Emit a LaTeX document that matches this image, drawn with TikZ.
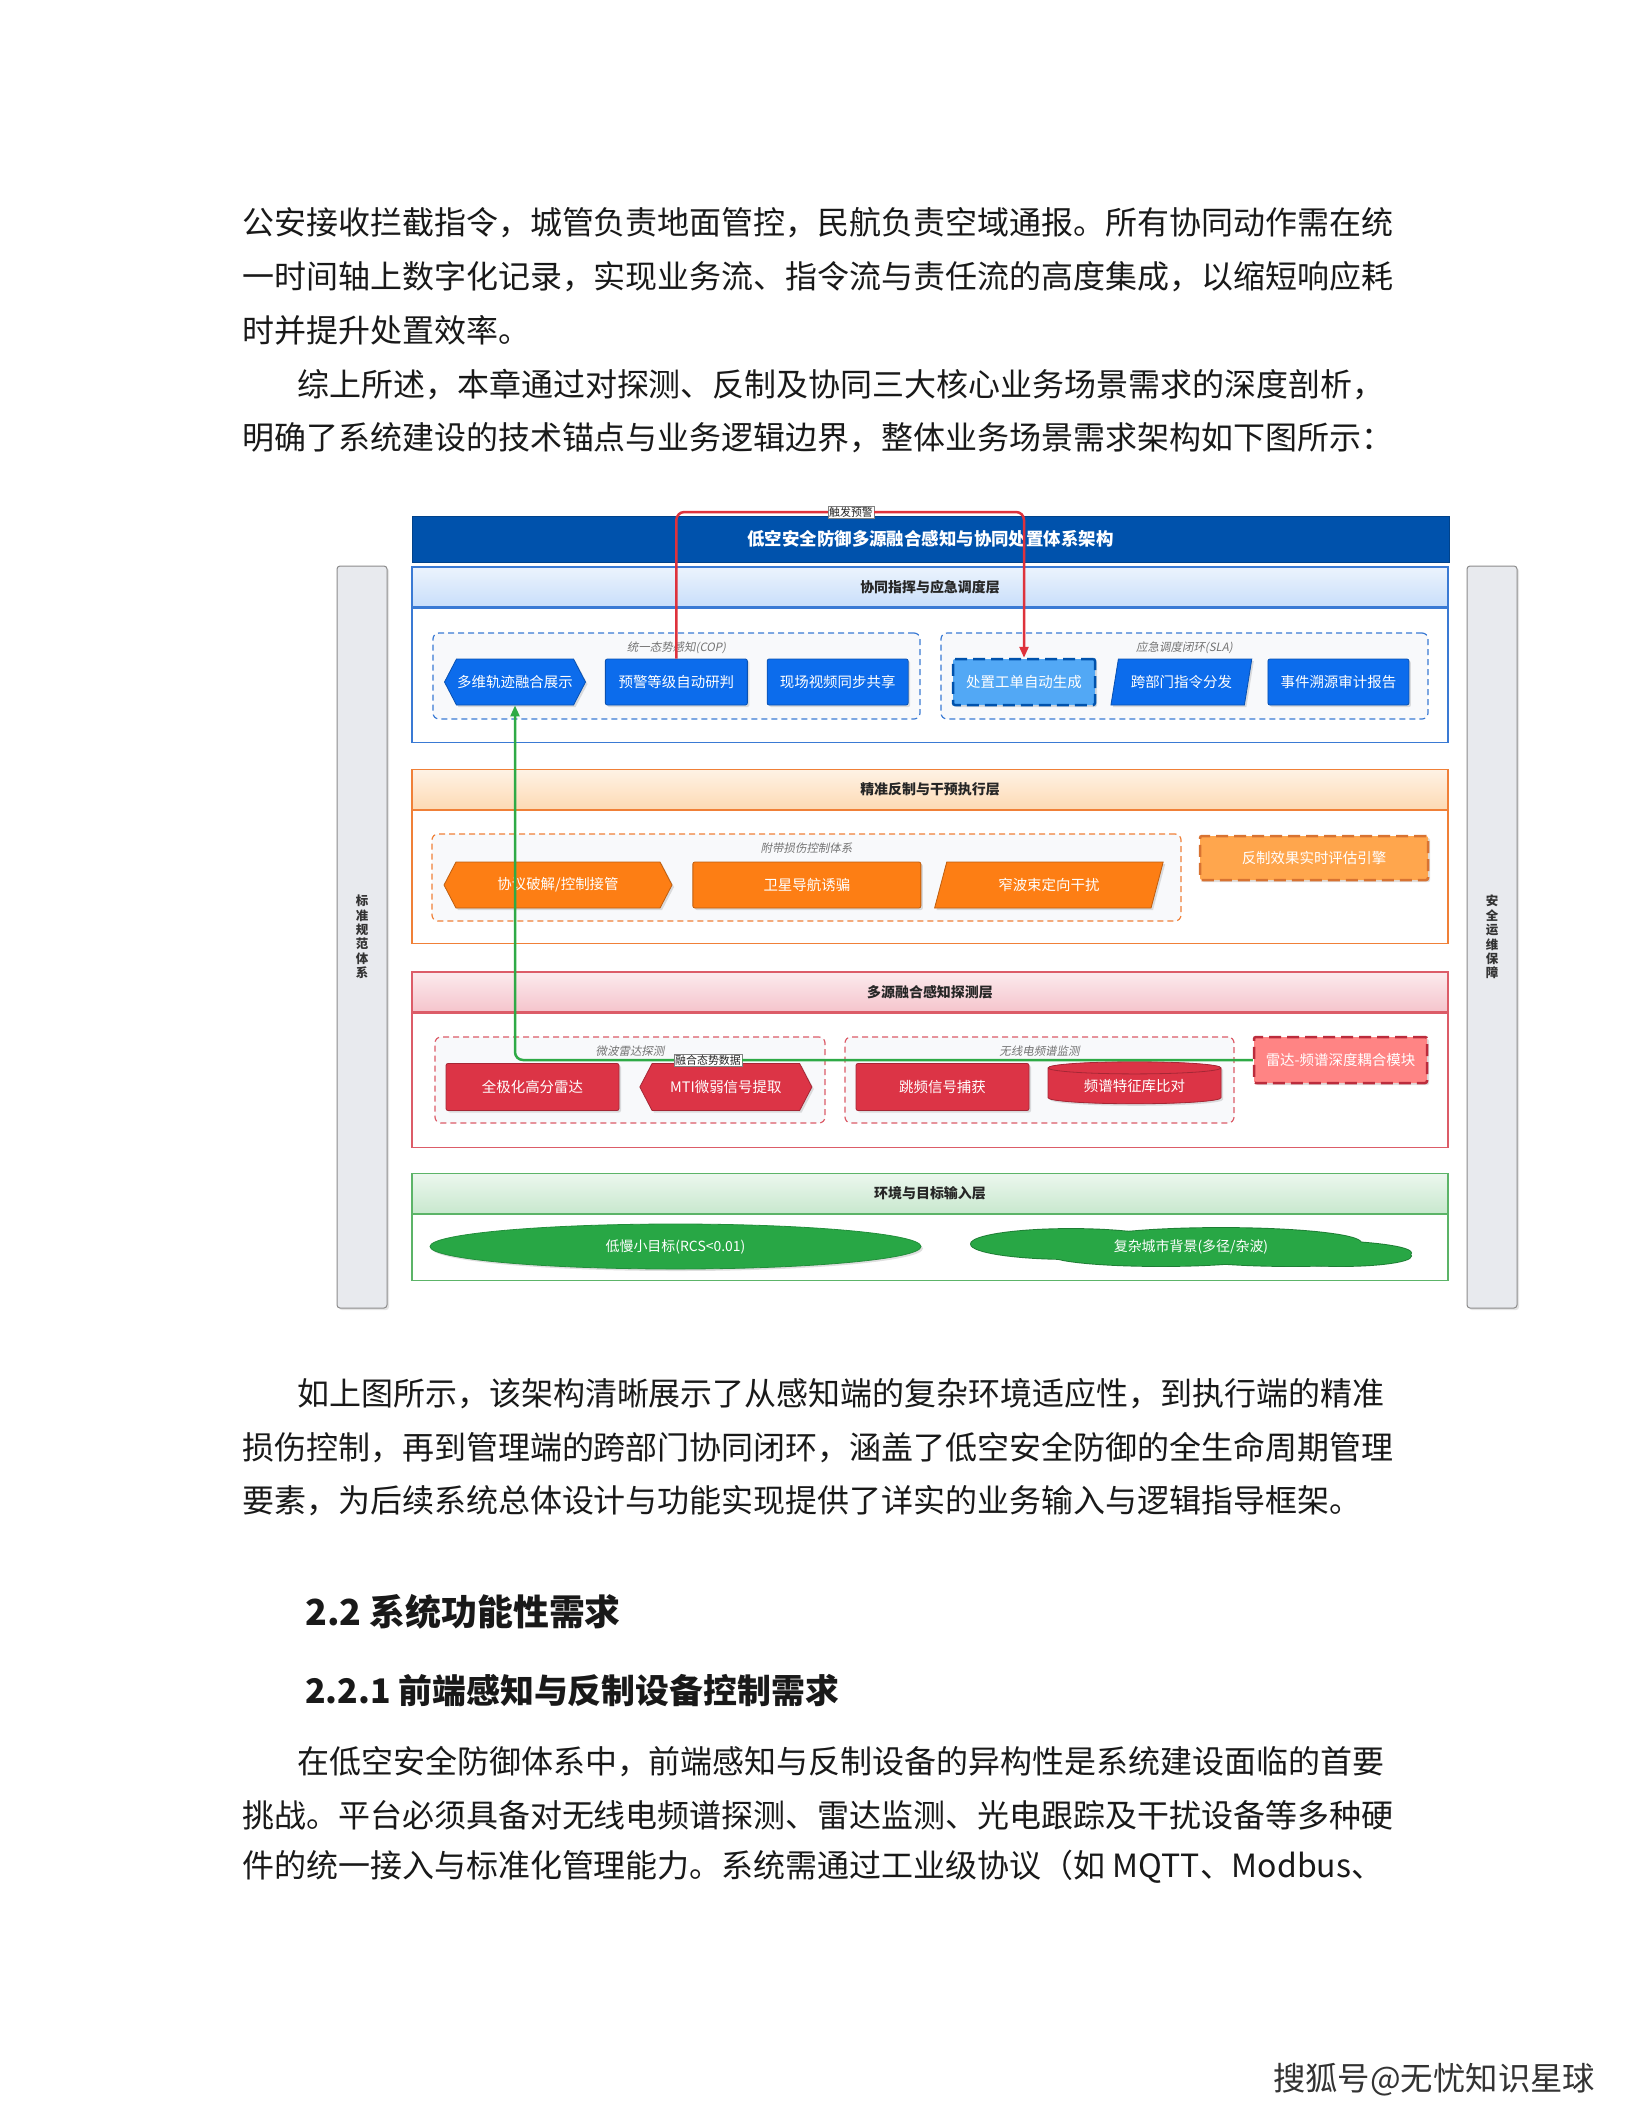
\documentclass[tikz,border=0pt]{standalone}
\usepackage{fontspec}
\setmainfont{Noto Sans CJK SC}
\newfontfamily\cjkit{Noto Sans CJK SC}[FakeSlant=0.2]
\usepackage{xcolor}
\usepackage{tikz}
\usetikzlibrary{positioning, arrows.meta, shapes.geometric, shapes.symbols,
shadows, backgrounds}

\definecolor{titleblue}{RGB}{0,82,172}
\definecolor{nodeblue}{RGB}{12,108,236}
\definecolor{hotblue}{RGB}{82,168,245}
\definecolor{lineblue}{RGB}{58,122,212}
\definecolor{headblue}{RGB}{200,222,250}
\definecolor{nodeorange}{RGB}{253,126,20}
\definecolor{hotorange}{RGB}{255,166,77}
\definecolor{lineorange}{RGB}{240,128,56}
\definecolor{headorange}{RGB}{253,218,180}
\definecolor{nodered}{RGB}{220,52,70}
\definecolor{hotred}{RGB}{255,132,132}
\definecolor{linered}{RGB}{220,92,104}
\definecolor{headred}{RGB}{245,196,204}
\definecolor{nodegreen}{RGB}{40,167,69}
\definecolor{linegreen}{RGB}{92,180,104}
\definecolor{headgreen}{RGB}{200,232,206}
\definecolor{sidegray}{RGB}{232,234,238}
\definecolor{groupfill}{RGB}{248,249,251}
\definecolor{flowred}{RGB}{222,50,60}
\definecolor{flowgreen}{RGB}{46,170,70}

\begin{document}
\begin{tikzpicture}[x=1bp, y=-1bp,
    bodyline/.style={anchor=west, inner sep=0pt, text=black!90,
      font=\fontsize{32.1}{34}\selectfont},
    layerhead/.style 2 args={draw=#1, line width=1.2bp, top color=#2!35!white,
      bottom color=#2, minimum width=1036bp, minimum height=40bp, inner sep=0pt,
      font=\fontsize{14}{16}\selectfont\bfseries, text=black!85},
    layerbody/.style={draw=#1, line width=1.2bp, fill=white,
      minimum width=1036bp, inner sep=0pt},
    grpbox/.style={draw=#1, dash pattern=on 6bp off 4bp, line width=1.2bp,
      fill=groupfill, rounded corners=6bp, inner sep=0pt},
    grplabel/.style={font=\cjkit\fontsize{11.5}{13}\selectfont, text=black!55,
      inner sep=1pt},
    unit/.style={fill=#1, draw=#1!75!black, line width=0.8bp, text=white,
      font=\fontsize{14.5}{16}\selectfont, minimum height=46bp, inner sep=0pt,
      rounded corners=2bp,
      drop shadow={shadow xshift=2bp, shadow yshift=-2bp, opacity=0.25}},
    hexshape/.style={shape=signal, signal to=west and east,
      signal pointer angle=125, rounded corners=0pt},
    slant/.style={shape=trapezium, trapezium left angle=66,
      trapezium right angle=114, trapezium stretches=true, rounded corners=0pt},
    hot/.style 2 args={fill=#1, draw=#2, line width=2.5bp,
      dash pattern=on 12bp off 6bp, text=white,
      font=\fontsize{14.5}{16}\selectfont, inner sep=0pt, rounded corners=2bp,
      drop shadow={shadow xshift=2bp, shadow yshift=-2bp, opacity=0.25}},
    sidebar/.style={fill=sidegray, draw=black!45, line width=1bp,
      rounded corners=3bp, minimum width=50bp, minimum height=742bp,
      font=\fontsize{12.5}{14.5}\selectfont\bfseries, text=black!80, align=center,
      drop shadow={shadow xshift=2bp, shadow yshift=-2bp, opacity=0.2}},
    flowlabel/.style={fill=white, draw=black!50, line width=0.5bp, inner sep=1bp,
      font=\fontsize{11}{12}\selectfont, text=black!85},
    flow/.style={draw=#1, line width=2.5bp, rounded corners=8bp,
      -{Triangle[length=11bp, width=9bp]}}
  ]
  \useasboundingbox[fill=white] (0,0) rectangle (1632,2112);

  % text above the figure
  \node[bodyline] (t1) at (242,223) {公安接收拦截指令，城管负责地面管控，民航负责空域通报。所有协同动作需在统};
  \node[bodyline] (t2) at (242,277) {一时间轴上数字化记录，实现业务流、指令流与责任流的高度集成，以缩短响应耗};
  \node[bodyline] (t3) at (242,330) {时并提升处置效率。};
  \node[bodyline] (t4) at (297,385) {综上所述，本章通过对探测、反制及协同三大核心业务场景需求的深度剖析，};
  \node[bodyline] (t5) at (242,438) {明确了系统建设的技术锚点与业务逻辑边界，整体业务场景需求架构如下图所示：};

  % side bars
  \node[sidebar] (stdbar) at (362,937) {标\\准\\规\\范\\体\\系};
  \node[sidebar] (opsbar) at (1492,937) {安\\全\\运\\维\\保\\障};

  % title
  \node[fill=titleblue, draw=titleblue!80!black, minimum width=1037bp,
    minimum height=46bp, inner sep=0pt, text=white,
    font=\fontsize{17.5}{20}\selectfont\bfseries] (title) at (930.5,539)
    {低空安全防御多源融合感知与协同处置体系架构};

  % layers
  \node[layerhead={lineblue}{headblue}] (cmdhead) at (930,587) {协同指挥与应急调度层};
  \node[layerbody=lineblue, minimum height=134bp, below=0pt of cmdhead] (cmdbody) {};
  \node[layerhead={lineorange}{headorange}] (ctrhead) at (930,789.5) {精准反制与干预执行层};
  \node[layerbody=lineorange, minimum height=133bp, below=0pt of ctrhead] (ctrbody) {};
  \node[layerhead={linered}{headred}] (senhead) at (930,992) {多源融合感知探测层};
  \node[layerbody=linered, minimum height=134bp, below=0pt of senhead] (senbody) {};
  \node[layerhead={linegreen}{headgreen}] (envhead) at (930,1193.5) {环境与目标输入层};
  \node[layerbody=linegreen, minimum height=66bp, below=0pt of envhead] (envbody) {};

  % dashed groups
  \node[grpbox=lineblue, minimum width=487bp, minimum height=86bp] (cop) at (676.5,676) {};
  \node[grplabel] at ([yshift=-15bp]cop.north) {统一态势感知(COP)};
  \node[grpbox=lineblue, minimum width=487bp, minimum height=86bp] (sla) at (1184.5,676) {};
  \node[grplabel] at ([yshift=-15bp]sla.north) {应急调度闭环(SLA)};
  \node[grpbox=lineorange, minimum width=749bp, minimum height=87bp] (dmg) at (806.5,877.5) {};
  \node[grplabel] at ([yshift=-15bp]dmg.north) {附带损伤控制体系};
  \node[grpbox=linered, minimum width=390bp, minimum height=86bp] (mwr) at (630,1080) {};
  \node[grplabel] at ([yshift=-15bp]mwr.north) {微波雷达探测};
  \node[grpbox=linered, minimum width=389bp, minimum height=86bp] (rfm) at (1039.5,1080) {};
  \node[grplabel] at ([yshift=-15bp]rfm.north) {无线电频谱监测};

  % command layer
  \node[unit=nodeblue, hexshape, minimum width=141bp] (trackshow) at (515,682) {多维轨迹融合展示};
  \node[unit=nodeblue, minimum width=142bp, right=19bp of trackshow] (warnjudge) {预警等级自动研判};
  \node[unit=nodeblue, minimum width=141bp, right=19bp of warnjudge] (videoshare) {现场视频同步共享};
  \node[hot={hotblue}{titleblue}, minimum width=142bp, minimum height=46bp] (workorder) at (1024,682) {处置工单自动生成};
  \node[unit=nodeblue, slant, minimum width=141bp, right=18bp of workorder] (dispatch) {跨部门指令分发};
  \node[unit=nodeblue, minimum width=141bp, right=19bp of dispatch] (audit) {事件溯源审计报告};

  % countermeasure layer
  \node[unit=nodeorange, hexshape, minimum width=228bp] (takeover) at (558,885) {协议破解/控制接管};
  \node[unit=nodeorange, minimum width=228bp, right=20bp of takeover] (spoof) {卫星导航诱骗};
  \node[unit=nodeorange, slant, minimum width=229bp, right=19bp of spoof] (beamjam) {窄波束定向干扰};
  \node[hot={hotorange}{lineorange!90!black}, minimum width=228bp, minimum height=44bp] (evalengine) at (1314,858) {反制效果实时评估引擎};

  % sensing layer
  \node[unit=nodered, minimum width=173bp, minimum height=47bp] (polradar) at (532.5,1087) {全极化高分雷达};
  \node[unit=nodered, hexshape, minimum width=172bp, minimum height=47bp, right=20bp of polradar] (mti) {MTI微弱信号提取};
  \node[unit=nodered, minimum width=173bp, minimum height=47bp] (hopcap) at (942.5,1087) {跳频信号捕获};
  \node[unit=nodered, shape=cylinder, shape border rotate=90, aspect=0.12,
    cylinder uses custom fill, cylinder body fill=nodered, cylinder end fill=nodered!90!white,
    rounded corners=0pt, minimum width=173bp, minimum height=42bp] (speclib) at (1134.5,1086) {频谱特征库比对};
  \node[hot={hotred}{nodered!85!black}, minimum width=173bp, minimum height=46bp] (coupling) at (1340.5,1060) {雷达-频谱深度耦合模块};

  % input layer
  \node[unit=nodegreen, ellipse, draw=nodegreen!85!black, minimum width=491bp,
    minimum height=45bp, font=\fontsize{14}{16}\selectfont] (target) at (675.5,1246.5) {低慢小目标(RCS<0.01)};
  % cloud drawn as overlapping puffs: outlines first, fills on top
  \begin{scope}[shift={(1191,1247)}]
    \foreach \cx/\cy/\rx/\ry in {-120/-3/100/15, 30/-4/140/15, 100/6/120/13,
        -30/8/110/11, 150/9/70/10}
      \draw[nodegreen!75!black, line width=1.8bp] (\cx,\cy) ellipse [x radius=\rx, y radius=\ry];
    \foreach \cx/\cy/\rx/\ry in {-120/-3/100/15, 30/-4/140/15, 100/6/120/13,
        -30/8/110/11, 150/9/70/10}
      \fill[nodegreen] (\cx,\cy) ellipse [x radius=\rx, y radius=\ry];
  \end{scope}
  \node[text=white, inner sep=0pt, font=\fontsize{14}{16}\selectfont] (clutter) at (1191,1247) {复杂城市背景(多径/杂波)};

  % flows
  \node[flowlabel] (alertlbl) at (851,512) {触发预警};
  \draw[flow=flowred] (warnjudge.north) |- (alertlbl) -| (workorder.north);
  \node[flowlabel] (fuselbl) at (708,1060) {融合态势数据};
  \draw[flow=flowgreen] (coupling.west) -- (fuselbl) -| (trackshow.south);

  % text below the figure
  \node[bodyline] (b1) at (297,1394) {如上图所示，该架构清晰展示了从感知端的复杂环境适应性，到执行端的精准};
  \node[bodyline] (b2) at (242,1448) {损伤控制，再到管理端的跨部门协同闭环，涵盖了低空安全防御的全生命周期管理};
  \node[bodyline] (b3) at (242,1501) {要素，为后续系统总体设计与功能实现提供了详实的业务输入与逻辑指导框架。};
  \node[bodyline, font=\fontsize{36}{40}\selectfont\bfseries] (h1) at (305,1612) {2.2 系统功能性需求};
  \node[bodyline, font=\fontsize{34}{38}\selectfont\bfseries] (h2) at (305,1691) {2.2.1 前端感知与反制设备控制需求};
  \node[bodyline] (b4) at (297,1762) {在低空安全防御体系中，前端感知与反制设备的异构性是系统建设面临的首要};
  \node[bodyline] (b5) at (242,1815) {挑战。平台必须具备对无线电频谱探测、雷达监测、光电跟踪及干扰设备等多种硬};
  \node[bodyline] (b6) at (242,1867) {件的统一接入与标准化管理能力。系统需通过工业级协议（如 MQTT、Modbus、};

  \node[anchor=west, inner sep=0pt, text=black!80, font=\fontsize{32.5}{34}\selectfont] (footer) at (1273,2080) {搜狐号@无忧知识星球};
\end{tikzpicture}
\end{document}
